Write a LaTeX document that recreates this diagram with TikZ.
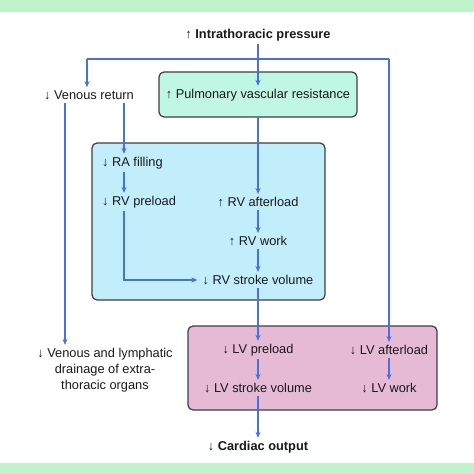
\documentclass[tikz,border=0pt]{standalone}
\usepackage{fontspec}
\setmainfont{Liberation Sans}
\usetikzlibrary{arrows.meta}
\definecolor{barg}{RGB}{192,242,204}
\definecolor{pvrf}{RGB}{192,247,228}
\definecolor{rvf}{RGB}{194,238,252}
\definecolor{lvf}{RGB}{230,186,212}
\definecolor{linec}{RGB}{72,112,222}
\definecolor{boxd}{RGB}{62,62,62}
\begin{document}
\begin{tikzpicture}[x=1pt,y=-1pt,
  lbl/.style={inner sep=3pt, font=\fontsize{12.8}{16}\selectfont, text=black!90},
  blbl/.style={lbl, font=\fontsize{12.8}{16}\selectfont\bfseries},
  panel/.style={draw=boxd, line width=1.2pt, rounded corners=5pt},
  arr/.style={draw=linec, line width=1.4pt, -{Stealth[length=6pt,width=5pt]}},
  ln/.style={draw=linec, line width=1.4pt}]
\useasboundingbox (0,0) rectangle (474,474);
\fill[barg] (0,0) rectangle (474,12);
\fill[barg] (0,463) rectangle (474,474);
% panels
\draw[panel, fill=pvrf] (159,72) rectangle (357,117);
\coordinate (pvrbot) at (258,117);
\draw[panel, fill=rvf] (92,143) rectangle (325,300);
\draw[panel, fill=lvf] (188,326) rectangle (437,410);
% nodes
\node[blbl] (ip) at (258,35) {↑ Intrathoracic pressure};
\node[lbl] (pvr) at (258,95) {↑ Pulmonary vascular resistance};
\node[lbl] (vr) at (89,95) {↓ Venous return};
\node[lbl, anchor=west] (raf) at (99,163) {↓ RA filling};
\node[lbl, anchor=west] (rvp) at (99,202) {↓ RV preload};
\node[lbl] (rva) at (258,202) {↑ RV afterload};
\node[lbl] (rvw) at (258,241) {↑ RV work};
\node[lbl] (rvsv) at (258,280) {↓ RV stroke volume};
\node[lbl] (lvp) at (258,350) {↓ LV preload};
\node[lbl] (lvsv) at (258,388) {↓ LV stroke volume};
\node[lbl] (lva) at (389,350) {↓ LV afterload};
\node[lbl] (lvw) at (389,388) {↓ LV work};
\node[blbl] (co) at (258,447) {↓ Cardiac output};
\node[lbl, align=center, font=\fontsize{12.8}{16}\selectfont] (vl) at (105,370) {↓ Venous and lymphatic\\drainage of extra-\\thoracic organs};
% helper columns
\coordinate (c124) at (124,0);
\coordinate (c65) at (65,0);
\coordinate (c87) at (87,0);
\coordinate (c389) at (389,0);
\coordinate (j) at (258,59);
% connectors
\draw[arr] (ip) -- (pvr);
\draw[ln] (j -| c87) -- (j -| c389);
\draw[arr] (j -| c87) -- (vr.north -| c87);
\draw[arr] (j -| c389) -- (lva.north -| c389);
\draw[arr] (vr.south -| c65) -- (vl.north -| c65);
\draw[arr] (vr.south -| c124) -- (raf.north -| c124);
\draw[arr] (raf.south -| c124) -- (rvp.north -| c124);
\draw[arr] (rvp.south -| c124) |- ([xshift=-2pt]rvsv.west);
\draw[arr] (pvrbot) -- (rva.north);
\draw[arr] (rva) -- (rvw);
\draw[arr] (rvw) -- (rvsv);
\draw[arr] (rvsv) -- (lvp);
\draw[arr] (lvp) -- (lvsv);
\draw[arr] (lva) -- (lvw);
\draw[arr] (lvsv) -- (co);
\end{tikzpicture}
\end{document}
